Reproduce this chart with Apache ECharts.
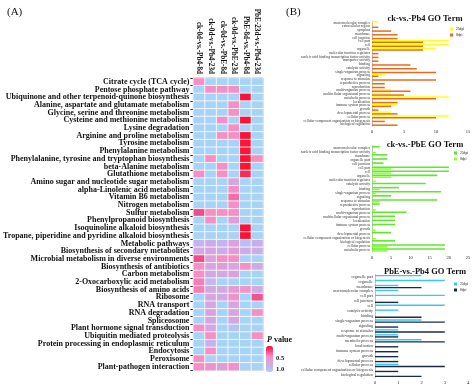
<!DOCTYPE html>
<html><head><meta charset="utf-8">
<script src="https://cdn.jsdelivr.net/npm/echarts@6/dist/echarts.min.js"></script>
<style>html,body{margin:0;padding:0;background:#fff}#c{width:474px;height:387px}</style>
</head><body><div id="c"></div>
<script>
// ---------- Heatmap (A) ----------
const pathways = [
 'Citrate cycle (TCA cycle)','Pentose phosphate pathway','Ubiquinone and other terpenoid-quinone biosynthesis',
 'Alanine, aspartate and glutamate metabolism','Glycine, serine and threonine metabolism','Cysteine and methionine metabolism',
 'Lysine degradation','Arginine and proline metabolism','Tyrosine metabolism','Phenylalanine metabolism',
 'Phenylalanine, tyrosine and tryptophan biosynthesis','beta-Alanine metabolism','Glutathione metabolism',
 'Amino sugar and nucleotide sugar metabolism','alpha-Linolenic acid metabolism','Vitamin B6 metabolism',
 'Nitrogen metabolism','Sulfur metabolism','Phenylpropanoid biosynthesis','Isoquinoline alkaloid biosynthesis',
 'Tropane, piperidine and pyridine alkaloid biosynthesis','Metabolic pathways','Biosynthesis of secondary metabolites',
 'Microbial metabolism in diverse environments','Biosynthesis of antibiotics','Carbon metabolism',
 '2-Oxocarboxylic acid metabolism','Biosynthesis of amino acids','Ribosome','RNA transport','RNA degradation',
 'Spliceosome','Plant hormone signal transduction','Ubiquitin mediated proteolysis',
 'Protein processing in endoplasmic reticulum','Endocytosis','Peroxisome','Plant-pathogen interaction'
];
const comparisons = ['ck-0d-vs.-Pb4-8d','ck-0d-vs.-Pb4-23d','ck-0d-vs.-PbE-8d','ck-0d-vs.-PbE-23d','PbE-8d-vs.-Pb4-8d','PbE-23d-vs.-Pb4-23d'];
const pValues = [
 [0.40,1,1,1,1,1],
 [1,0.40,0.40,0.40,1,1],
 [1,1,1,1,0.02,1],
 [1,1,1,0.40,1,1],
 [1,1,1,0.40,1,1],
 [1,1,0.40,1,0.02,1],
 [1,1,1,0.40,1,1],
 [1,1,0.40,0.40,0.02,1],
 [1,1,1,1,0.03,1],
 [1,1,1,1,0.03,1],
 [1,0.40,1,1,0.02,0.40],
 [1,1,0.40,1,0.03,1],
 [0.40,1,0.40,1,0.10,1],
 [1,1,1,0.65,1,1],
 [1,1,1,0.42,1,1],
 [1,1,1,0.30,1,1],
 [1,1,1,0.40,1,1],
 [0.20,0.40,0.40,0.40,1,1],
 [1,0.40,1,0.55,1,1],
 [1,1,1,1,0.02,1],
 [1,1,1,1,0.02,1],
 [0.80,0.70,0.80,0.60,0.90,0.75],
 [0.70,0.62,0.75,0.55,0.70,0.75],
 [0.20,0.60,0.40,0.40,1,1],
 [0.40,0.65,0.55,0.65,0.40,0.70],
 [0.40,0.65,0.70,0.58,1,1],
 [0.35,0.85,1,1,1,1],
 [0.35,0.65,0.70,0.50,0.45,0.70],
 [1,0.65,0.70,0.45,1,0.22],
 [1,0.65,1,0.65,1,1],
 [1,0.60,1,0.65,1,0.42],
 [1,0.65,1,0.65,1,1],
 [0.40,0.65,1,0.90,1,1],
 [1,0.40,1,1,1,0.42],
 [1,0.80,1,1,1,1],
 [1,0.40,1,1,1,1],
 [0.40,1,1,1,1,1],
 [0.40,0.45,0.55,0.40,1,1]
];
const pTicks = ['0.5','1.0'];

// ---------- GO bar charts (B) ----------
const goTerms1 = ['macromolecular complex','extracellular region','symplast','membrane','cell junction','cell part','cell','organelle',
 'molecular function regulator','nucleic acid binding transcription factor activity','transporter activity','binding','catalytic activity',
 'single-organism process','signaling','response to stimulus','reproductive process','reproduction','multi-organism process',
 'multicellular organismal process','metabolic process','localization','immune system process','growth','developmental process',
 'cellular process','cellular component organization or biogenesis','biological regulation'];
const pb4_25dpi = [1,0,0,0,0,12,12,10,0,0,0,0,0,0,2,0,0,0,3,3,12,0,4,0,3,12,0,0];
const pb4_8dpi  = [0,1,3,4,4,8,8,8,1,1,1,6,7,10,1,10,2,2,6,5,10,4,3,1,4,10,2,4];

const goTerms2 = ['macromolecular complex','nucleic acid binding transcription factor activity','membrane','organelle part','cell junction',
 'cell part','cell','organelle','molecular function regulator','catalytic activity','binding','single-organism process','signaling',
 'response to stimulus','reproductive process','reproduction','multi-organism process','multicellular organismal process','localization',
 'immune system process','growth','developmental process','cellular component organization or biogenesis','biological regulation',
 'cellular process','metabolic process'];
const pbe_25dpi = [2,0,4,4,3,20,20,17,0,14,7,18,5,17,2,0,9,6,6,6,0,5,0,6,19,19];
const pbe_8dpi  = [0,1,0,0,0,5,5,5,1,0,2,1,0,2,0,1,0,0,0,0,1,0,1,0,4,4];

const goTerms3 = ['organelle part','organelle','membrane','macromolecular complex','cell part','cell junction','cell','catalytic activity',
 'binding','single-organism process','signaling','response to stimulus','multi-organism process','metabolic process','localization',
 'immune system process','growth','developmental process','cellular process','cellular component organization or biogenesis','biological regulation'];
const pbe4_25dpi = [2,3,1,1,3,0,3,1,0,2,0,1,1,2,0,0,0,0,1,0,0];
const pbe4_8dpi  = [0,0,2,0,0,1,0,0,2,3,1,3,1,3,1,1,1,1,3,1,2];

const xTicks1 = [0,15,5], xTicks2 = [0,25,5], xTicks3 = [0,4,1]; // min, max, interval

const SERIF = '"Liberation Serif","DejaVu Serif",serif';

const heatData = [];
pValues.forEach((row, r) => row.forEach((v, c) => heatData.push([c, r, v])));

function goYAxis(idx, terms, fs){
  return {type:'category', gridIndex:idx, data:terms, inverse:true,
    axisTick:{show:false}, axisLine:{show:true, lineStyle:{color:'#999', width:0.6}},
    axisLabel:{interval:0, fontSize:fs, fontFamily:SERIF, color:'#333', margin:2}};
}
function goXAxis(idx, t){
  return {type:'value', gridIndex:idx, min:t[0], max:t[1], interval:t[2],
    axisLine:{show:false}, axisTick:{show:false}, splitLine:{show:false},
    axisLabel:{fontSize:4.5, fontFamily:SERIF, color:'#222', margin:3}};
}
function goTitle(text, y){
  return {text:text, left:420, top:y, textAlign:'center',
    textStyle:{fontSize:8.5, fontWeight:'bold', fontFamily:SERIF, color:'#111'}};
}
function goLegend(names, x, y){
  return {data:names, left:x, top:y, orient:'vertical', itemWidth:3, itemHeight:3, itemGap:2, icon:'rect',
    formatter: n => n.split('#')[0], textStyle:{fontSize:3.6, fontFamily:SERIF, color:'#222', padding:[0,0,0,-2]}};
}
function bar(name, idx, data, color, bw, gap){
  return {type:'bar', name:name, xAxisIndex:idx, yAxisIndex:idx, data:data, barWidth:bw, barGap:gap,
    itemStyle:{color:color}, silent:true, animation:false};
}

const chart = echarts.init(document.getElementById('c'), null, {renderer:'canvas'});
chart.setOption({
  animation:false,
  backgroundColor:'#fff',
  title:[
    {text:'(A)', left:2, top:2, textStyle:{fontSize:11, fontWeight:'normal', fontFamily:SERIF, color:'#111'}},
    {text:'(B)', left:281, top:2, textStyle:{fontSize:11, fontWeight:'normal', fontFamily:SERIF, color:'#111'}},
    goTitle('ck-vs.-Pb4 GO Term', 9),
    goTitle('ck-vs.-PbE GO Term', 135),
    goTitle('PbE-vs.-Pb4 GO Term', 262)
  ],
  legend:[
    goLegend(['25dpi#1','8dpi#1'], 445, 22),
    goLegend(['25dpi#2','8dpi#2'], 449, 146),
    goLegend(['25dpi#3','8dpi#3'], 449, 277)
  ],
  grid:[
    {left:190, top:78, width:73, height:292.5, show:true, borderColor:'#2c4a68', borderWidth:1, backgroundColor:'transparent'},
    {left:372, top:20.8, width:96, height:105.4},
    {left:372, top:145.6, width:96, height:106.4},
    {left:375, top:274.2, width:93, height:103.6}
  ],
  xAxis:[
    {type:'category', gridIndex:0, data:comparisons, position:'top',
      axisLine:{show:false}, axisTick:{show:false}, splitLine:{show:false},
      axisLabel:{interval:0, rotate:90, fontSize:7.2, fontWeight:'bold', fontFamily:SERIF, color:'#111', margin:4}},
    goXAxis(1, xTicks1), goXAxis(2, xTicks2), goXAxis(3, xTicks3)
  ],
  yAxis:[
    {type:'category', gridIndex:0, data:pathways, inverse:true,
      axisLine:{show:false}, axisTick:{show:true, length:3, lineStyle:{color:'#222'}},
      axisLabel:{interval:0, fontSize:8, fontWeight:'bold', fontFamily:SERIF, color:'#111', margin:4}},
    goYAxis(1, goTerms1, 3.6), goYAxis(2, goTerms2, 3.6), goYAxis(3, goTerms3, 3.9)
  ],
  visualMap:{
    type:'continuous', seriesIndex:0, min:0, max:1, inverse:true, calculable:false,
    left:266, top:346, padding:0, itemWidth:7, itemHeight:26, text:null, showLabel:false,
    inRange:{color:['#ff0a2a','#f04c8c','#f58fc4','#d9a3dc','#c4b3ec','#a7d3f7']}
  },
  graphic:[
    {type:'text', left:267, top:336, style:{text:'{i|P} value', rich:{i:{fontStyle:'italic', fontWeight:'bold', fontFamily:SERIF, fontSize:8, fill:'#111'}}, font:'bold 8px '+SERIF, fill:'#111'}},
    {type:'text', left:276, top:355, z:100, style:{text:pTicks[0], font:'bold 6.5px '+SERIF, fill:'#111'}},
    {type:'text', left:276, top:366, z:100, style:{text:pTicks[1], font:'bold 6.5px '+SERIF, fill:'#111'}}
  ],
  series:[
    {type:'heatmap', xAxisIndex:0, yAxisIndex:0, data:heatData,
      itemStyle:{borderColor:'#ffffff', borderWidth:0.8}, silent:true},
    bar('25dpi#1', 1, pb4_25dpi, '#ffff1a', 1.5, '15%'),
    bar('8dpi#1', 1, pb4_8dpi, '#e86a1c', 1.5, '15%'),
    bar('25dpi#2', 2, pbe_25dpi, '#5ee82a', 1.6, '15%'),
    bar('8dpi#2', 2, pbe_8dpi, '#8cff3a', 1.6, '15%'),
    bar('25dpi#3', 3, pbe4_25dpi, '#38c8f0', 1.4, '50%'),
    bar('8dpi#3', 3, pbe4_8dpi, '#1c2b45', 1.4, '50%')
  ]
});
</script>
</body></html>
